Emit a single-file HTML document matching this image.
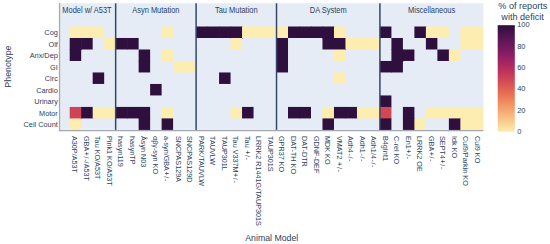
<!DOCTYPE html><html><head><meta charset="utf-8"><style>html,body{margin:0;padding:0;background:#fff;width:550px;height:244px;overflow:hidden}svg{display:block}</style></head><body>
<svg width="550" height="244" viewBox="0 0 550 244" font-family="Liberation Sans, sans-serif">
<defs><linearGradient id="cb" x1="0" y1="1" x2="0" y2="0"><stop offset="0.0000" stop-color="rgb(253,237,176)"/><stop offset="0.0909" stop-color="rgb(250,205,145)"/><stop offset="0.1818" stop-color="rgb(246,173,119)"/><stop offset="0.2727" stop-color="rgb(240,142,98)"/><stop offset="0.3636" stop-color="rgb(231,109,84)"/><stop offset="0.4545" stop-color="rgb(216,80,83)"/><stop offset="0.5455" stop-color="rgb(195,56,90)"/><stop offset="0.6364" stop-color="rgb(168,40,96)"/><stop offset="0.7273" stop-color="rgb(138,29,99)"/><stop offset="0.8182" stop-color="rgb(107,24,93)"/><stop offset="0.9091" stop-color="rgb(76,21,80)"/><stop offset="1.0000" stop-color="rgb(47,15,61)"/></linearGradient></defs>
<rect x="60.20" y="3.30" width="423.20" height="126.60" fill="#e5ecf6"/>
<clipPath id="pc"><rect x="60.20" y="3.30" width="423.20" height="126.60"/></clipPath><g clip-path="url(#pc)">
<rect x="69.70" y="26.50" width="12.09" height="12.09" fill="rgb(253,237,176)"/>
<rect x="81.19" y="26.50" width="12.09" height="12.09" fill="rgb(253,237,176)"/>
<rect x="92.68" y="26.50" width="11.49" height="11.49" fill="rgb(253,237,176)"/>
<rect x="161.62" y="26.50" width="11.49" height="11.49" fill="rgb(253,237,176)"/>
<rect x="196.09" y="26.50" width="12.09" height="11.49" fill="rgb(47,15,61)"/>
<rect x="207.58" y="26.50" width="12.09" height="11.49" fill="rgb(47,15,61)"/>
<rect x="219.07" y="26.50" width="12.09" height="11.49" fill="rgb(47,15,61)"/>
<rect x="230.56" y="26.50" width="12.09" height="12.09" fill="rgb(47,15,61)"/>
<rect x="242.05" y="26.50" width="12.09" height="11.49" fill="rgb(253,237,176)"/>
<rect x="253.54" y="26.50" width="12.09" height="11.49" fill="rgb(253,237,176)"/>
<rect x="265.03" y="26.50" width="12.09" height="11.49" fill="rgb(253,237,176)"/>
<rect x="276.52" y="26.50" width="12.09" height="12.09" fill="rgb(253,237,176)"/>
<rect x="288.01" y="26.50" width="12.09" height="11.49" fill="rgb(47,15,61)"/>
<rect x="299.50" y="26.50" width="12.09" height="11.49" fill="rgb(47,15,61)"/>
<rect x="310.99" y="26.50" width="12.09" height="11.49" fill="rgb(47,15,61)"/>
<rect x="322.48" y="26.50" width="12.09" height="12.09" fill="rgb(47,15,61)"/>
<rect x="333.97" y="26.50" width="11.49" height="12.09" fill="rgb(253,237,176)"/>
<rect x="379.93" y="26.50" width="11.49" height="11.49" fill="rgb(47,15,61)"/>
<rect x="414.40" y="26.50" width="12.09" height="11.49" fill="rgb(47,15,61)"/>
<rect x="425.89" y="26.50" width="12.09" height="12.09" fill="rgb(253,237,176)"/>
<rect x="437.38" y="26.50" width="11.49" height="11.49" fill="rgb(253,237,176)"/>
<rect x="460.36" y="26.50" width="12.09" height="12.09" fill="rgb(253,237,176)"/>
<rect x="471.85" y="26.50" width="11.49" height="12.09" fill="rgb(253,237,176)"/>
<rect x="69.70" y="37.99" width="12.09" height="12.09" fill="rgb(47,15,61)"/>
<rect x="81.19" y="37.99" width="11.49" height="11.49" fill="rgb(47,15,61)"/>
<rect x="104.17" y="37.99" width="12.09" height="11.49" fill="rgb(253,237,176)"/>
<rect x="115.66" y="37.99" width="12.09" height="11.49" fill="rgb(47,15,61)"/>
<rect x="127.15" y="37.99" width="11.49" height="11.49" fill="rgb(47,15,61)"/>
<rect x="230.56" y="37.99" width="11.49" height="11.49" fill="rgb(253,237,176)"/>
<rect x="276.52" y="37.99" width="11.49" height="12.09" fill="rgb(47,15,61)"/>
<rect x="322.48" y="37.99" width="12.09" height="11.49" fill="rgb(47,15,61)"/>
<rect x="333.97" y="37.99" width="12.09" height="12.09" fill="rgb(47,15,61)"/>
<rect x="345.46" y="37.99" width="12.09" height="11.49" fill="rgb(253,237,176)"/>
<rect x="356.95" y="37.99" width="12.09" height="11.49" fill="rgb(253,237,176)"/>
<rect x="368.44" y="37.99" width="11.49" height="11.49" fill="rgb(253,237,176)"/>
<rect x="391.42" y="37.99" width="11.49" height="12.09" fill="rgb(47,15,61)"/>
<rect x="425.89" y="37.99" width="11.49" height="11.49" fill="rgb(47,15,61)"/>
<rect x="460.36" y="37.99" width="12.09" height="11.49" fill="rgb(253,237,176)"/>
<rect x="471.85" y="37.99" width="11.49" height="11.49" fill="rgb(253,237,176)"/>
<rect x="69.70" y="49.48" width="11.49" height="11.49" fill="rgb(47,15,61)"/>
<rect x="138.64" y="49.48" width="11.49" height="12.09" fill="rgb(47,15,61)"/>
<rect x="161.62" y="49.48" width="11.49" height="11.49" fill="rgb(253,237,176)"/>
<rect x="276.52" y="49.48" width="11.49" height="12.09" fill="rgb(47,15,61)"/>
<rect x="333.97" y="49.48" width="11.49" height="11.49" fill="rgb(253,237,176)"/>
<rect x="391.42" y="49.48" width="12.09" height="12.09" fill="rgb(47,15,61)"/>
<rect x="402.91" y="49.48" width="11.49" height="11.49" fill="rgb(47,15,61)"/>
<rect x="437.38" y="49.48" width="12.09" height="11.49" fill="rgb(47,15,61)"/>
<rect x="448.87" y="49.48" width="11.49" height="11.49" fill="rgb(253,237,176)"/>
<rect x="138.64" y="60.97" width="11.49" height="11.49" fill="rgb(47,15,61)"/>
<rect x="173.11" y="60.97" width="12.09" height="11.49" fill="rgb(253,237,176)"/>
<rect x="184.60" y="60.97" width="11.49" height="11.49" fill="rgb(253,237,176)"/>
<rect x="276.52" y="60.97" width="11.49" height="11.49" fill="rgb(47,15,61)"/>
<rect x="379.93" y="60.97" width="12.09" height="11.49" fill="rgb(47,15,61)"/>
<rect x="391.42" y="60.97" width="11.49" height="11.49" fill="rgb(47,15,61)"/>
<rect x="92.68" y="72.46" width="11.49" height="11.49" fill="rgb(47,15,61)"/>
<rect x="219.07" y="72.46" width="11.49" height="11.49" fill="rgb(47,15,61)"/>
<rect x="333.97" y="72.46" width="11.49" height="11.49" fill="rgb(253,237,176)"/>
<rect x="150.13" y="83.95" width="11.49" height="11.49" fill="rgb(47,15,61)"/>
<rect x="379.93" y="95.44" width="11.49" height="12.09" fill="rgb(47,15,61)"/>
<rect x="69.70" y="106.93" width="12.09" height="12.09" fill="rgb(206,68,86)"/>
<rect x="81.19" y="106.93" width="12.09" height="11.49" fill="rgb(47,15,61)"/>
<rect x="92.68" y="106.93" width="12.09" height="11.49" fill="rgb(253,237,176)"/>
<rect x="104.17" y="106.93" width="12.09" height="11.49" fill="rgb(253,237,176)"/>
<rect x="115.66" y="106.93" width="12.09" height="11.49" fill="rgb(47,15,61)"/>
<rect x="127.15" y="106.93" width="12.09" height="11.49" fill="rgb(47,15,61)"/>
<rect x="138.64" y="106.93" width="11.49" height="12.09" fill="rgb(47,15,61)"/>
<rect x="161.62" y="106.93" width="11.49" height="12.09" fill="rgb(253,237,176)"/>
<rect x="230.56" y="106.93" width="12.09" height="11.49" fill="rgb(253,237,176)"/>
<rect x="242.05" y="106.93" width="11.49" height="11.49" fill="rgb(47,15,61)"/>
<rect x="288.01" y="106.93" width="12.09" height="11.49" fill="rgb(47,15,61)"/>
<rect x="299.50" y="106.93" width="11.49" height="11.49" fill="rgb(47,15,61)"/>
<rect x="322.48" y="106.93" width="12.09" height="12.09" fill="rgb(253,237,176)"/>
<rect x="333.97" y="106.93" width="12.09" height="11.49" fill="rgb(47,15,61)"/>
<rect x="345.46" y="106.93" width="12.09" height="11.49" fill="rgb(47,15,61)"/>
<rect x="356.95" y="106.93" width="12.09" height="11.49" fill="rgb(253,237,176)"/>
<rect x="368.44" y="106.93" width="12.09" height="11.49" fill="rgb(253,237,176)"/>
<rect x="379.93" y="106.93" width="11.49" height="12.09" fill="rgb(210,73,85)"/>
<rect x="402.91" y="106.93" width="11.49" height="12.09" fill="rgb(47,15,61)"/>
<rect x="425.89" y="106.93" width="12.09" height="11.49" fill="rgb(253,237,176)"/>
<rect x="437.38" y="106.93" width="12.09" height="11.49" fill="rgb(253,237,176)"/>
<rect x="448.87" y="106.93" width="12.09" height="12.09" fill="rgb(253,237,176)"/>
<rect x="460.36" y="106.93" width="12.09" height="12.09" fill="rgb(253,237,176)"/>
<rect x="471.85" y="106.93" width="11.49" height="12.09" fill="rgb(253,237,176)"/>
<rect x="69.70" y="118.42" width="11.49" height="11.49" fill="rgb(253,237,176)"/>
<rect x="138.64" y="118.42" width="11.49" height="11.49" fill="rgb(47,15,61)"/>
<rect x="161.62" y="118.42" width="11.49" height="11.49" fill="rgb(47,15,61)"/>
<rect x="322.48" y="118.42" width="11.49" height="11.49" fill="rgb(47,15,61)"/>
<rect x="379.93" y="118.42" width="11.49" height="11.49" fill="rgb(47,15,61)"/>
<rect x="402.91" y="118.42" width="12.09" height="11.49" fill="rgb(47,15,61)"/>
<rect x="414.40" y="118.42" width="11.49" height="11.49" fill="rgb(253,237,176)"/>
<rect x="448.87" y="118.42" width="12.09" height="11.49" fill="rgb(47,15,61)"/>
<rect x="460.36" y="118.42" width="12.09" height="11.49" fill="rgb(253,237,176)"/>
<rect x="471.85" y="118.42" width="11.49" height="11.49" fill="rgb(253,237,176)"/>
</g>
<line x1="115.66" y1="3.30" x2="115.66" y2="129.90" stroke="#34476a" stroke-width="1.5"/>
<line x1="196.09" y1="3.30" x2="196.09" y2="129.90" stroke="#34476a" stroke-width="1.5"/>
<line x1="276.52" y1="3.30" x2="276.52" y2="129.90" stroke="#34476a" stroke-width="1.5"/>
<line x1="379.93" y1="3.30" x2="379.93" y2="129.90" stroke="#34476a" stroke-width="1.5"/>
<line x1="59.55" y1="3.10" x2="59.55" y2="131.20" stroke="#a4a8b0" stroke-width="1.3"/>
<line x1="58.90" y1="130.55" x2="483.40" y2="130.55" stroke="#a4a8b0" stroke-width="1.3"/>
<text transform="translate(86.94,12.9) scale(0.900,1)" font-size="8.30" fill="#2a3f5f" text-anchor="middle">Model w/ A53T</text>
<text transform="translate(155.88,12.9) scale(0.900,1)" font-size="8.30" fill="#2a3f5f" text-anchor="middle">Asyn Mutation</text>
<text transform="translate(236.31,12.9) scale(0.900,1)" font-size="8.30" fill="#2a3f5f" text-anchor="middle">Tau Mutation</text>
<text transform="translate(328.22,12.9) scale(0.900,1)" font-size="8.30" fill="#2a3f5f" text-anchor="middle">DA System</text>
<text transform="translate(431.63,12.9) scale(0.900,1)" font-size="8.30" fill="#2a3f5f" text-anchor="middle">Miscellaneous</text>
<text transform="translate(57.8,35.14) scale(0.930,1)" font-size="7.90" fill="#2a3f5f" text-anchor="end">Cog</text>
<text transform="translate(57.8,46.63) scale(0.930,1)" font-size="7.90" fill="#2a3f5f" text-anchor="end">Olf</text>
<text transform="translate(57.8,58.12) scale(0.930,1)" font-size="7.90" fill="#2a3f5f" text-anchor="end">Anx/Dep</text>
<text transform="translate(57.8,69.62) scale(0.930,1)" font-size="7.90" fill="#2a3f5f" text-anchor="end">GI</text>
<text transform="translate(57.8,81.11) scale(0.930,1)" font-size="7.90" fill="#2a3f5f" text-anchor="end">Circ</text>
<text transform="translate(57.8,92.59) scale(0.930,1)" font-size="7.90" fill="#2a3f5f" text-anchor="end">Cardio</text>
<text transform="translate(57.8,104.09) scale(0.930,1)" font-size="7.90" fill="#2a3f5f" text-anchor="end">Urinary</text>
<text transform="translate(57.8,115.58) scale(0.930,1)" font-size="7.90" fill="#2a3f5f" text-anchor="end">Motor</text>
<text transform="translate(57.8,127.07) scale(0.930,1)" font-size="7.90" fill="#2a3f5f" text-anchor="end">Cell Count</text>
<text transform="translate(72.45,136) rotate(90) scale(1,0.900)" font-size="7.25" fill="#2a3f5f">A30P/A53T</text>
<text transform="translate(83.94,136) rotate(90) scale(1,0.900)" font-size="7.25" fill="#2a3f5f">GBA<tspan dx="0.5">+</tspan><tspan dx="0.6">/</tspan><tspan dx="0.6">-</tspan>/A53T</text>
<text transform="translate(95.43,136) rotate(90) scale(1,0.900)" font-size="7.25" fill="#2a3f5f">Tau KO/A53T</text>
<text transform="translate(106.92,136) rotate(90) scale(1,0.900)" font-size="7.25" fill="#2a3f5f">Pink1 KO/A53T</text>
<text transform="translate(118.41,136) rotate(90) scale(1,0.900)" font-size="7.25" fill="#2a3f5f">hasyn119</text>
<text transform="translate(129.90,136) rotate(90) scale(1,0.900)" font-size="7.25" fill="#2a3f5f">hasynTP</text>
<text transform="translate(141.38,136) rotate(90) scale(1,0.900)" font-size="7.25" fill="#2a3f5f">Åsyn N03</text>
<text transform="translate(152.88,136) rotate(90) scale(1,0.900)" font-size="7.25" fill="#2a3f5f">αβγ-syn KO</text>
<text transform="translate(164.37,136) rotate(90) scale(1,0.900)" font-size="7.25" fill="#2a3f5f">a-syn/GBA<tspan dx="0.5">+</tspan><tspan dx="0.6">/</tspan><tspan dx="0.6">-</tspan></text>
<text transform="translate(175.86,136) rotate(90) scale(1,0.900)" font-size="7.25" fill="#2a3f5f">SNCPAS129A</text>
<text transform="translate(187.34,136) rotate(90) scale(1,0.900)" font-size="7.25" fill="#2a3f5f">SNCPAS129D</text>
<text transform="translate(198.83,136) rotate(90) scale(1,0.900)" font-size="7.25" fill="#2a3f5f">PARK/TAUVLW</text>
<text transform="translate(210.32,136) rotate(90) scale(1,0.900)" font-size="7.25" fill="#2a3f5f">TAUVLW</text>
<text transform="translate(221.81,136) rotate(90) scale(1,0.900)" font-size="7.25" fill="#2a3f5f">TAUP301L</text>
<text transform="translate(233.31,136) rotate(90) scale(1,0.900)" font-size="7.25" fill="#2a3f5f">Tau V337M<tspan dx="0.5">+</tspan><tspan dx="0.6">/</tspan><tspan dx="0.6">-</tspan></text>
<text transform="translate(244.80,136) rotate(90) scale(1,0.900)" font-size="7.25" fill="#2a3f5f">Tau <tspan dx="0.5">+</tspan><tspan dx="0.6">/</tspan><tspan dx="0.6">-</tspan></text>
<text transform="translate(256.29,136) rotate(90) scale(1,0.900)" font-size="7.25" fill="#2a3f5f">LRRK2 R1441G/TAUP301S</text>
<text transform="translate(267.78,136) rotate(90) scale(1,0.900)" font-size="7.25" fill="#2a3f5f">TAUP301S</text>
<text transform="translate(279.26,136) rotate(90) scale(1,0.900)" font-size="7.25" fill="#2a3f5f">GPR37 KO</text>
<text transform="translate(290.75,136) rotate(90) scale(1,0.900)" font-size="7.25" fill="#2a3f5f">DAT-TH KO</text>
<text transform="translate(302.25,136) rotate(90) scale(1,0.900)" font-size="7.25" fill="#2a3f5f">DAT-DTR</text>
<text transform="translate(313.74,136) rotate(90) scale(1,0.900)" font-size="7.25" fill="#2a3f5f">GDNF-DEF</text>
<text transform="translate(325.22,136) rotate(90) scale(1,0.900)" font-size="7.25" fill="#2a3f5f">MDK KO</text>
<text transform="translate(336.71,136) rotate(90) scale(1,0.900)" font-size="7.25" fill="#2a3f5f">VMAT2 <tspan dx="0.5">+</tspan><tspan dx="0.6">/</tspan><tspan dx="0.6">-</tspan></text>
<text transform="translate(348.20,136) rotate(90) scale(1,0.900)" font-size="7.25" fill="#2a3f5f">Adh4<tspan dx="0.5">-</tspan><tspan dx="0.6">/</tspan><tspan dx="0.6">-</tspan></text>
<text transform="translate(359.69,136) rotate(90) scale(1,0.900)" font-size="7.25" fill="#2a3f5f">Adh1<tspan dx="0.5">-</tspan><tspan dx="0.6">/</tspan><tspan dx="0.6">-</tspan></text>
<text transform="translate(371.19,136) rotate(90) scale(1,0.900)" font-size="7.25" fill="#2a3f5f">Adh1/4<tspan dx="0.5">-</tspan><tspan dx="0.6">/</tspan><tspan dx="0.6">-</tspan></text>
<text transform="translate(382.68,136) rotate(90) scale(1,0.900)" font-size="7.25" fill="#2a3f5f">B4gInt1</text>
<text transform="translate(394.17,136) rotate(90) scale(1,0.900)" font-size="7.25" fill="#2a3f5f">C-rel KO</text>
<text transform="translate(405.65,136) rotate(90) scale(1,0.900)" font-size="7.25" fill="#2a3f5f">En1<tspan dx="0.5">+</tspan><tspan dx="0.6">/</tspan><tspan dx="0.6">-</tspan></text>
<text transform="translate(417.14,136) rotate(90) scale(1,0.900)" font-size="7.25" fill="#2a3f5f">LRRK2 OE</text>
<text transform="translate(428.63,136) rotate(90) scale(1,0.900)" font-size="7.25" fill="#2a3f5f">GBA<tspan dx="0.5">+</tspan><tspan dx="0.6">/</tspan><tspan dx="0.6">-</tspan></text>
<text transform="translate(440.12,136) rotate(90) scale(1,0.900)" font-size="7.25" fill="#2a3f5f">SEPT4<tspan dx="0.5">+</tspan><tspan dx="0.6">/</tspan><tspan dx="0.6">-</tspan></text>
<text transform="translate(451.62,136) rotate(90) scale(1,0.900)" font-size="7.25" fill="#2a3f5f">Idk KO</text>
<text transform="translate(463.11,136) rotate(90) scale(1,0.900)" font-size="7.25" fill="#2a3f5f">Cul9/Parkin KO</text>
<text transform="translate(474.59,136) rotate(90) scale(1,0.900)" font-size="7.25" fill="#2a3f5f">Cul9 KO</text>
<text x="271.80" y="240.5" font-size="8.75" fill="#2a3f5f" text-anchor="middle">Animal Model</text>
<text transform="translate(11,66.60) rotate(-90)" font-size="8.8" fill="#2a3f5f" text-anchor="middle">Phenotype</text>
<rect x="497.70" y="25.20" width="17.10" height="106.60" fill="url(#cb)"/>
<text x="517.2" y="133.90" font-size="7.45" fill="#2a3f5f">0</text>
<text x="517.2" y="112.58" font-size="7.45" fill="#2a3f5f">20</text>
<text x="517.2" y="91.26" font-size="7.45" fill="#2a3f5f">40</text>
<text x="517.2" y="69.94" font-size="7.45" fill="#2a3f5f">60</text>
<text x="517.2" y="48.62" font-size="7.45" fill="#2a3f5f">80</text>
<text x="517.2" y="27.30" font-size="7.45" fill="#2a3f5f">100</text>
<text x="522.8" y="9.35" font-size="9.1" fill="#2a3f5f" text-anchor="middle">% of reports</text>
<text x="522.6" y="19.6" font-size="9.1" fill="#2a3f5f" text-anchor="middle">with deficit</text>
</svg></body></html>
